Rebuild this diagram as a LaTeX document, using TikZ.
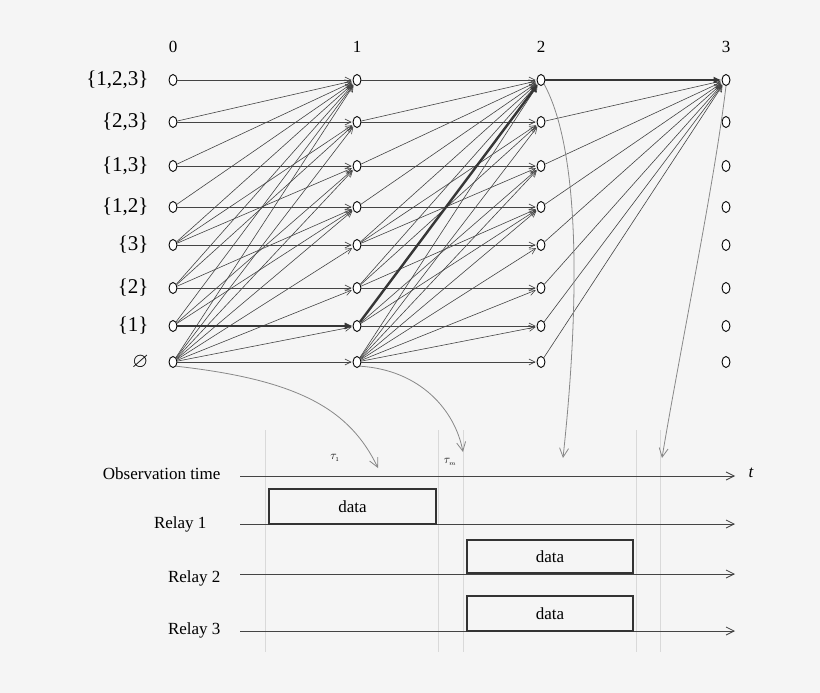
\documentclass[tikz,border=0pt]{standalone}
\usepackage{amssymb}
\usepackage{fontspec}
\setmainfont{Liberation Serif}
\usetikzlibrary{arrows.meta,shapes.geometric}
\definecolor{bg}{HTML}{F5F5F5}
\definecolor{ln}{HTML}{444444}
\definecolor{gl}{HTML}{888888}
\begin{document}
\begin{tikzpicture}[x=1pt,y=-1pt,
  st/.style={ellipse,draw=black,fill=white,line width=0.9pt,minimum width=8pt,minimum height=11pt,inner sep=0pt},
  ed/.style={draw=ln,line width=0.6pt,-{Straight Barb[length=6pt,width=6pt]},shorten >=1pt},
  thick path/.style={draw=ln!80!black,line width=2.4pt,-{Latex[length=8pt,width=7pt]}},
  curv/.style={draw=gl,line width=0.8pt,-{Straight Barb[length=9pt,width=9pt]}},
  vl/.style={draw=black!15,line width=0.8pt},
  tl/.style={draw=ln,line width=0.8pt,-{Straight Barb[length=8pt,width=8pt]}},
  databox/.style={draw=black!80,line width=2.2pt,font=\fontsize{17}{20}\selectfont},
  lab/.style={font=\fontsize{21}{24}\selectfont,anchor=east},
  rl/.style={font=\fontsize{17}{20}\selectfont,anchor=east}]
\fill[bg] (0,0) rectangle (820,693);
\useasboundingbox (0,0) rectangle (820,693);
\foreach \c/\x in {0/173,1/357,2/541,3/726}{
  \node[font=\fontsize{17}{20}\selectfont] (h\c) at (\x,47) {\c};
  \foreach \r/\y in {1/80,2/122,3/166,4/207,5/245,6/288,7/326,8/362}
    \node[st] (n\c\r) at (\x,\y) {};
}
\foreach \r/\y/\t in {1/80/{\{1,2,3\}},2/122/{\{2,3\}},3/166/{\{1,3\}},4/207/{\{1,2\}},5/245/{\{3\}},6/288/{\{2\}},7/326/{\{1\}},8/362/{$\varnothing$}}
  \node[lab] (l\r) at (152,\y) {\t};
\foreach \c/\d in {0/1,1/2}{
  \foreach \a/\b in {1/1,2/2,2/1,3/3,3/1,4/4,4/1,5/5,5/2,5/3,5/1,6/6,6/2,6/4,6/1,7/7,7/3,7/4,7/1,8/8,8/7,8/6,8/5,8/4,8/3,8/2,8/1}
    \draw[ed] (n\c\a) -- (n\d\b);
}
\foreach \a in {2,...,8} \draw[ed] (n2\a) -- (n31);
\draw[thick path] (n07) -- (n17);
\draw[thick path] (n17) -- (n21);
\draw[thick path] (n21) -- (n31);
\foreach \x/\n in {265/a,438/b,463/c,636/d,660/e}
  \draw[vl] (\x,430) coordinate (v\n) -- (\x,652);
\coordinate (o0) at (240,476); \coordinate (o1) at (735,476);
\coordinate (r10) at (240,524); \coordinate (r11) at (735,524);
\coordinate (r20) at (240,574); \coordinate (r21) at (735,574);
\coordinate (r30) at (240,631); \coordinate (r31) at (735,631);
\draw[tl] (o0) -- (o1);
\draw[tl] (r10) -- (r11);
\draw[tl] (r20) -- (r21);
\draw[tl] (r30) -- (r31);
\node[rl] (ot) at (224,474) {Observation time};
\node[rl] (t1) at (210,524) {Relay 1};
\node[rl] (t2) at (224,578) {Relay 2};
\node[rl] (t3) at (224,630) {Relay 3};
\node[font=\fontsize{17}{20}\itshape\selectfont] (tt) at (751,473) {t};
\node[font=\fontsize{13}{15}\selectfont] (tau1) at (335,458) {$\tau_{\scriptscriptstyle 1}$};
\node[font=\fontsize{12}{14}\selectfont] (taum) at (450,462) {$\tau_{\scriptscriptstyle m}$};
\node[databox,minimum width=167pt,minimum height=35pt] (d1) at (352.5,506.5) {data};
\node[databox,minimum width=166pt,minimum height=33pt] (d2) at (550,556.5) {data};
\node[databox,minimum width=166pt,minimum height=35pt] (d3) at (550,613.5) {data};
\coordinate (c1) at (378,468); \coordinate (c2) at (463,452);
\coordinate (c3) at (563,458); \coordinate (c4) at (662,458);
\draw[curv] (n08.south east) .. controls (300,380) and (350,410) .. (c1);
\draw[curv] (n18.south east) .. controls (420,370) and (455,410) .. (c2);
\draw[curv] (n21.south east) .. controls (580,150) and (580,300) .. (c3);
\draw[curv] (n31.south) .. controls (715,180) and (680,350) .. (c4);
\end{tikzpicture}
\end{document}
